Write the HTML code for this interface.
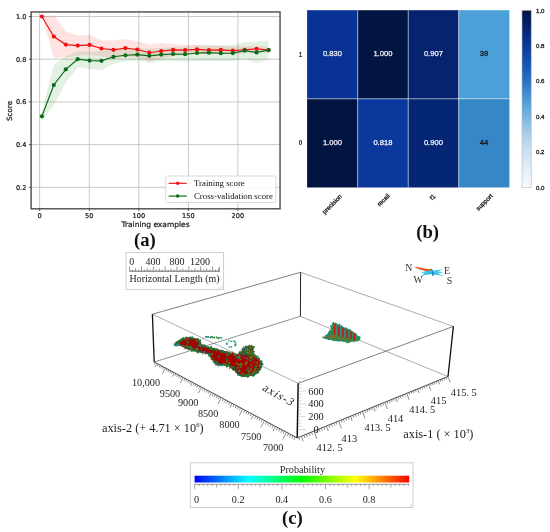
<!DOCTYPE html>
<html><head><meta charset="utf-8"><title>Figure</title>
<style>
html,body{margin:0;padding:0;background:#fff}
body{width:550px;height:532px;overflow:hidden}
svg{display:block}
.dj{font-family:"DejaVu Sans","Liberation Sans",sans-serif;stroke:#1a1a1a;stroke-width:0.22px}
.ar{font-family:"Liberation Sans","DejaVu Sans",sans-serif}
.arb{stroke:#1a1a1a;stroke-width:0.3px}
.arw{stroke:#f4f4f8;stroke-width:0.25px}
.tm{font-family:"Liberation Serif","DejaVu Serif",serif}
.tb{stroke:#222;stroke-width:0.12px}
</style></head><body>
<svg width="550" height="532" viewBox="0 0 550 532">
<rect width="550" height="532" fill="#fff"/>
<g id="panel-a">
<line x1="39.6" y1="11.95" x2="39.6" y2="208.8" stroke="#c4c4c4" stroke-width="0.9"/>
<line x1="89.3" y1="11.95" x2="89.3" y2="208.8" stroke="#c4c4c4" stroke-width="0.9"/>
<line x1="138.8" y1="11.95" x2="138.8" y2="208.8" stroke="#c4c4c4" stroke-width="0.9"/>
<line x1="188.4" y1="11.95" x2="188.4" y2="208.8" stroke="#c4c4c4" stroke-width="0.9"/>
<line x1="237.9" y1="11.95" x2="237.9" y2="208.8" stroke="#c4c4c4" stroke-width="0.9"/>
<line x1="31.1" y1="16.5" x2="280.05" y2="16.5" stroke="#c4c4c4" stroke-width="0.9"/>
<line x1="31.1" y1="59.2" x2="280.05" y2="59.2" stroke="#c4c4c4" stroke-width="0.9"/>
<line x1="31.1" y1="101.9" x2="280.05" y2="101.9" stroke="#c4c4c4" stroke-width="0.9"/>
<line x1="31.1" y1="144.6" x2="280.05" y2="144.6" stroke="#c4c4c4" stroke-width="0.9"/>
<line x1="31.1" y1="187.3" x2="280.05" y2="187.3" stroke="#c4c4c4" stroke-width="0.9"/>
<polygon points="41.9,16.5 53.8,15.0 65.8,31.8 77.7,35.5 89.6,34.7 101.5,40.5 113.5,40.3 125.4,39.1 137.3,41.5 149.3,44.2 161.2,43.0 173.1,43.9 185.1,45.1 197.0,44.9 208.9,46.1 220.8,45.9 232.8,46.6 244.7,46.3 256.6,45.8 268.6,47.1 268.6,53.1 256.6,51.8 244.7,53.3 232.8,54.6 220.8,53.9 208.9,54.1 197.0,53.9 185.1,55.1 173.1,55.9 161.2,59.0 149.3,61.2 137.3,57.5 125.4,57.1 113.5,59.3 101.5,56.5 89.6,55.1 77.7,55.7 65.8,57.4 53.8,58.0 41.9,16.5" fill="#ff0000" fill-opacity="0.11"/>
<polygon points="41.9,111.8 53.8,65.0 65.8,56.3 77.7,50.9 89.6,52.1 101.5,51.3 113.5,49.8 125.4,49.3 137.3,48.6 149.3,48.8 161.2,48.1 173.1,47.0 185.1,46.7 197.0,45.0 208.9,44.7 220.8,45.2 232.8,45.1 244.7,42.3 256.6,41.4 268.6,40.6 268.6,59.6 256.6,63.4 244.7,58.9 232.8,61.1 220.8,61.2 208.9,60.7 197.0,61.0 185.1,61.7 173.1,61.0 161.2,61.1 149.3,62.8 137.3,60.6 125.4,61.3 113.5,63.8 101.5,70.3 89.6,69.1 77.7,67.5 65.8,82.3 53.8,105.0 41.9,120.8" fill="#008000" fill-opacity="0.11"/>
<polyline points="41.9,16.5 53.8,36.5 65.8,44.6 77.7,45.6 89.6,44.9 101.5,48.5 113.5,49.8 125.4,48.1 137.3,49.5 149.3,52.7 161.2,51.0 173.1,49.9 185.1,50.1 197.0,49.4 208.9,50.1 220.8,49.9 232.8,50.6 244.7,49.8 256.6,48.8 268.6,50.1" fill="none" stroke="#f01010" stroke-width="1.15"/><circle cx="41.9" cy="16.5" r="2.1" fill="#f01010"/><circle cx="53.8" cy="36.5" r="2.1" fill="#f01010"/><circle cx="65.8" cy="44.6" r="2.1" fill="#f01010"/><circle cx="77.7" cy="45.6" r="2.1" fill="#f01010"/><circle cx="89.6" cy="44.9" r="2.1" fill="#f01010"/><circle cx="101.5" cy="48.5" r="2.1" fill="#f01010"/><circle cx="113.5" cy="49.8" r="2.1" fill="#f01010"/><circle cx="125.4" cy="48.1" r="2.1" fill="#f01010"/><circle cx="137.3" cy="49.5" r="2.1" fill="#f01010"/><circle cx="149.3" cy="52.7" r="2.1" fill="#f01010"/><circle cx="161.2" cy="51.0" r="2.1" fill="#f01010"/><circle cx="173.1" cy="49.9" r="2.1" fill="#f01010"/><circle cx="185.1" cy="50.1" r="2.1" fill="#f01010"/><circle cx="197.0" cy="49.4" r="2.1" fill="#f01010"/><circle cx="208.9" cy="50.1" r="2.1" fill="#f01010"/><circle cx="220.8" cy="49.9" r="2.1" fill="#f01010"/><circle cx="232.8" cy="50.6" r="2.1" fill="#f01010"/><circle cx="244.7" cy="49.8" r="2.1" fill="#f01010"/><circle cx="256.6" cy="48.8" r="2.1" fill="#f01010"/><circle cx="268.6" cy="50.1" r="2.1" fill="#f01010"/>
<polyline points="41.9,116.3 53.8,85.0 65.8,69.3 77.7,59.2 89.6,60.6 101.5,60.8 113.5,56.8 125.4,55.3 137.3,54.6 149.3,55.8 161.2,54.6 173.1,54.0 185.1,54.2 197.0,53.0 208.9,52.7 220.8,53.2 232.8,53.1 244.7,50.6 256.6,52.4 268.6,50.1" fill="none" stroke="#0b6b16" stroke-width="1.15"/><circle cx="41.9" cy="116.3" r="2.1" fill="#0b6b16"/><circle cx="53.8" cy="85.0" r="2.1" fill="#0b6b16"/><circle cx="65.8" cy="69.3" r="2.1" fill="#0b6b16"/><circle cx="77.7" cy="59.2" r="2.1" fill="#0b6b16"/><circle cx="89.6" cy="60.6" r="2.1" fill="#0b6b16"/><circle cx="101.5" cy="60.8" r="2.1" fill="#0b6b16"/><circle cx="113.5" cy="56.8" r="2.1" fill="#0b6b16"/><circle cx="125.4" cy="55.3" r="2.1" fill="#0b6b16"/><circle cx="137.3" cy="54.6" r="2.1" fill="#0b6b16"/><circle cx="149.3" cy="55.8" r="2.1" fill="#0b6b16"/><circle cx="161.2" cy="54.6" r="2.1" fill="#0b6b16"/><circle cx="173.1" cy="54.0" r="2.1" fill="#0b6b16"/><circle cx="185.1" cy="54.2" r="2.1" fill="#0b6b16"/><circle cx="197.0" cy="53.0" r="2.1" fill="#0b6b16"/><circle cx="208.9" cy="52.7" r="2.1" fill="#0b6b16"/><circle cx="220.8" cy="53.2" r="2.1" fill="#0b6b16"/><circle cx="232.8" cy="53.1" r="2.1" fill="#0b6b16"/><circle cx="244.7" cy="50.6" r="2.1" fill="#0b6b16"/><circle cx="256.6" cy="52.4" r="2.1" fill="#0b6b16"/><circle cx="268.6" cy="50.1" r="2.1" fill="#0b6b16"/>
<rect x="31.1" y="11.95" width="248.95000000000002" height="196.85000000000002" fill="none" stroke="#454545" stroke-width="1.35"/>
<line x1="28.900000000000002" y1="16.5" x2="31.1" y2="16.5" stroke="#333" stroke-width="0.8"/>
<text class="dj" x="26.4" y="18.9" font-size="6.6" text-anchor="end" fill="#1a1a1a">1.0</text>
<line x1="28.900000000000002" y1="59.2" x2="31.1" y2="59.2" stroke="#333" stroke-width="0.8"/>
<text class="dj" x="26.4" y="61.6" font-size="6.6" text-anchor="end" fill="#1a1a1a">0.8</text>
<line x1="28.900000000000002" y1="101.9" x2="31.1" y2="101.9" stroke="#333" stroke-width="0.8"/>
<text class="dj" x="26.4" y="104.30000000000001" font-size="6.6" text-anchor="end" fill="#1a1a1a">0.6</text>
<line x1="28.900000000000002" y1="144.6" x2="31.1" y2="144.6" stroke="#333" stroke-width="0.8"/>
<text class="dj" x="26.4" y="147.0" font-size="6.6" text-anchor="end" fill="#1a1a1a">0.4</text>
<line x1="28.900000000000002" y1="187.3" x2="31.1" y2="187.3" stroke="#333" stroke-width="0.8"/>
<text class="dj" x="26.4" y="189.70000000000002" font-size="6.6" text-anchor="end" fill="#1a1a1a">0.2</text>
<line x1="39.6" y1="208.8" x2="39.6" y2="211.0" stroke="#333" stroke-width="0.8"/>
<text class="dj" x="39.6" y="218.3" font-size="6.6" text-anchor="middle" fill="#1a1a1a">0</text>
<line x1="89.3" y1="208.8" x2="89.3" y2="211.0" stroke="#333" stroke-width="0.8"/>
<text class="dj" x="89.3" y="218.3" font-size="6.6" text-anchor="middle" fill="#1a1a1a">50</text>
<line x1="138.8" y1="208.8" x2="138.8" y2="211.0" stroke="#333" stroke-width="0.8"/>
<text class="dj" x="138.8" y="218.3" font-size="6.6" text-anchor="middle" fill="#1a1a1a">100</text>
<line x1="188.4" y1="208.8" x2="188.4" y2="211.0" stroke="#333" stroke-width="0.8"/>
<text class="dj" x="188.4" y="218.3" font-size="6.6" text-anchor="middle" fill="#1a1a1a">150</text>
<line x1="237.9" y1="208.8" x2="237.9" y2="211.0" stroke="#333" stroke-width="0.8"/>
<text class="dj" x="237.9" y="218.3" font-size="6.6" text-anchor="middle" fill="#1a1a1a">200</text>
<text class="dj" x="155.5" y="227.4" font-size="7.5" text-anchor="middle" fill="#1a1a1a">Training examples</text>
<text class="dj" transform="translate(11.6,111) rotate(-90)" font-size="7.2" text-anchor="middle" fill="#1a1a1a">Score</text>
<rect x="165.7" y="176" width="110.2" height="26.5" rx="1.6" fill="#fff" fill-opacity="0.85" stroke="#cfcfcf" stroke-width="0.8"/>
<line x1="168.6" y1="183.3" x2="186.8" y2="183.3" stroke="#f01010" stroke-width="1.15"/><circle cx="177.7" cy="183.3" r="1.75" fill="#f01010"/>
<line x1="168.6" y1="196.1" x2="186.8" y2="196.1" stroke="#0b6b16" stroke-width="1.15"/><circle cx="177.7" cy="196.1" r="1.75" fill="#0b6b16"/>
<text class="tm" x="194" y="186.2" font-size="8.8" fill="#111">Training score</text>
<text class="tm" x="194" y="199" font-size="8.8" fill="#111">Cross-validation score</text>
<text class="tm" transform="translate(144.8,246.4) scale(0.985,1)" font-size="19" font-weight="bold" text-anchor="middle" fill="#111">(a)</text>
</g>
<g id="panel-b">
<defs><linearGradient id="blues" x1="0" y1="1" x2="0" y2="0">
<stop offset="0" stop-color="rgb(247, 251, 255)"/>
<stop offset="0.1" stop-color="rgb(228, 239, 249)"/>
<stop offset="0.2" stop-color="rgb(205, 224, 241)"/>
<stop offset="0.3" stop-color="rgb(170, 207, 233)"/>
<stop offset="0.4" stop-color="rgb(120, 182, 224)"/>
<stop offset="0.5" stop-color="rgb(75, 152, 212)"/>
<stop offset="0.6" stop-color="rgb(40, 115, 195)"/>
<stop offset="0.7" stop-color="rgb(20, 85, 175)"/>
<stop offset="0.8" stop-color="rgb(10, 58, 150)"/>
<stop offset="0.9" stop-color="rgb(5, 36, 112)"/>
<stop offset="1.0" stop-color="rgb(2, 20, 66)"/>
</linearGradient></defs>
<rect x="307.1" y="10.2" width="50.6" height="88.6" fill="rgb(8, 50, 148)"/>
<rect x="357.7" y="10.2" width="50.5" height="88.6" fill="rgb(2, 20, 66)"/>
<rect x="408.2" y="10.2" width="50.5" height="88.6" fill="rgb(5, 35, 110)"/>
<rect x="458.7" y="10.2" width="50.7" height="88.6" fill="rgb(75, 160, 215)"/>
<rect x="307.1" y="98.8" width="50.6" height="88.7" fill="rgb(2, 20, 66)"/>
<rect x="357.7" y="98.8" width="50.5" height="88.7" fill="rgb(10, 56, 156)"/>
<rect x="408.2" y="98.8" width="50.5" height="88.7" fill="rgb(5, 38, 116)"/>
<rect x="458.7" y="98.8" width="50.7" height="88.7" fill="rgb(55, 135, 200)"/>
<line x1="357.7" y1="10.2" x2="357.7" y2="187.5" stroke="#ffffff" stroke-opacity="0.5" stroke-width="1"/>
<line x1="408.2" y1="10.2" x2="408.2" y2="187.5" stroke="#ffffff" stroke-opacity="0.5" stroke-width="1"/>
<line x1="458.7" y1="10.2" x2="458.7" y2="187.5" stroke="#ffffff" stroke-opacity="0.5" stroke-width="1"/>
<line x1="307.1" y1="98.8" x2="509.4" y2="98.8" stroke="#ffffff" stroke-opacity="0.5" stroke-width="1"/>
<text class="ar arw" x="332.4" y="56.3" font-size="7.6" text-anchor="middle" fill="#f4f4f8">0.830</text>
<text class="ar arw" x="382.9" y="56.3" font-size="7.6" text-anchor="middle" fill="#f4f4f8">1.000</text>
<text class="ar arw" x="433.4" y="56.3" font-size="7.6" text-anchor="middle" fill="#f4f4f8">0.907</text>
<text class="ar arb" x="484.0" y="56.3" font-size="7.6" text-anchor="middle" fill="#10203a">39</text>
<text class="ar arw" x="332.4" y="145.0" font-size="7.6" text-anchor="middle" fill="#f4f4f8">1.000</text>
<text class="ar arw" x="382.9" y="145.0" font-size="7.6" text-anchor="middle" fill="#f4f4f8">0.818</text>
<text class="ar arw" x="433.4" y="145.0" font-size="7.6" text-anchor="middle" fill="#f4f4f8">0.900</text>
<text class="ar arb" x="484.0" y="145.0" font-size="7.6" text-anchor="middle" fill="#10203a">44</text>
<text class="ar" x="300.6" y="56.6" font-size="6.3" font-weight="bold" text-anchor="middle" fill="#222">1</text>
<text class="ar" x="300.6" y="145.3" font-size="6.3" font-weight="bold" text-anchor="middle" fill="#222">0</text>
<text class="ar arb" transform="translate(332,204.2) rotate(-45)" font-size="6.2" text-anchor="middle" dy="2.1" fill="#222">precision</text>
<text class="ar arb" transform="translate(383.4,200.1) rotate(-45)" font-size="6.2" text-anchor="middle" dy="2.1" fill="#222">recall</text>
<text class="ar arb" transform="translate(432.6,197.1) rotate(-45)" font-size="6.2" text-anchor="middle" dy="2.1" fill="#222">f1</text>
<text class="ar arb" transform="translate(484.3,202.2) rotate(-45)" font-size="6.2" text-anchor="middle" dy="2.1" fill="#222">support</text>
<rect x="522" y="10.3" width="9.2" height="177.2" fill="url(#blues)" stroke="#b8b8b8" stroke-width="0.6"/>
<text class="ar arb" x="536" y="12.5" font-size="6.1" fill="#222">1.0</text>
<text class="ar arb" x="536" y="47.900000000000006" font-size="6.1" fill="#222">0.8</text>
<text class="ar arb" x="536" y="83.4" font-size="6.1" fill="#222">0.6</text>
<text class="ar arb" x="536" y="118.8" font-size="6.1" fill="#222">0.4</text>
<text class="ar arb" x="536" y="154.29999999999998" font-size="6.1" fill="#222">0.2</text>
<text class="ar arb" x="536" y="189.7" font-size="6.1" fill="#222">0.0</text>
<text class="tm" transform="translate(427.6,237.8) scale(0.985,1)" font-size="19" font-weight="bold" text-anchor="middle" fill="#111">(b)</text>
</g>
<g id="panel-c">
<rect x="126" y="252.6" width="97.6" height="36.8" fill="#fff" stroke="#c8c8c8" stroke-width="0.9"/>
<path d="M219.5 288.6 L222.8 285.3 M221 288.6 L222.8 286.8" stroke="#bbb" stroke-width="0.5" fill="none"/>
<line x1="129.4" y1="271.2" x2="219.6" y2="271.2" stroke="#555" stroke-width="0.9"/>
<line x1="129.60" y1="271.2" x2="129.60" y2="266.4" stroke="#555" stroke-width="0.6"/>
<line x1="132.56" y1="271.2" x2="132.56" y2="269.59999999999997" stroke="#555" stroke-width="0.6"/>
<line x1="135.53" y1="271.2" x2="135.53" y2="268.4" stroke="#555" stroke-width="0.6"/>
<line x1="138.49" y1="271.2" x2="138.49" y2="269.59999999999997" stroke="#555" stroke-width="0.6"/>
<line x1="141.45" y1="271.2" x2="141.45" y2="266.4" stroke="#555" stroke-width="0.6"/>
<line x1="144.41" y1="271.2" x2="144.41" y2="269.59999999999997" stroke="#555" stroke-width="0.6"/>
<line x1="147.38" y1="271.2" x2="147.38" y2="268.4" stroke="#555" stroke-width="0.6"/>
<line x1="150.34" y1="271.2" x2="150.34" y2="269.59999999999997" stroke="#555" stroke-width="0.6"/>
<line x1="153.30" y1="271.2" x2="153.30" y2="266.4" stroke="#555" stroke-width="0.6"/>
<line x1="156.26" y1="271.2" x2="156.26" y2="269.59999999999997" stroke="#555" stroke-width="0.6"/>
<line x1="159.22" y1="271.2" x2="159.22" y2="268.4" stroke="#555" stroke-width="0.6"/>
<line x1="162.19" y1="271.2" x2="162.19" y2="269.59999999999997" stroke="#555" stroke-width="0.6"/>
<line x1="165.15" y1="271.2" x2="165.15" y2="266.4" stroke="#555" stroke-width="0.6"/>
<line x1="168.11" y1="271.2" x2="168.11" y2="269.59999999999997" stroke="#555" stroke-width="0.6"/>
<line x1="171.07" y1="271.2" x2="171.07" y2="268.4" stroke="#555" stroke-width="0.6"/>
<line x1="174.04" y1="271.2" x2="174.04" y2="269.59999999999997" stroke="#555" stroke-width="0.6"/>
<line x1="177.00" y1="271.2" x2="177.00" y2="266.4" stroke="#555" stroke-width="0.6"/>
<line x1="179.96" y1="271.2" x2="179.96" y2="269.59999999999997" stroke="#555" stroke-width="0.6"/>
<line x1="182.92" y1="271.2" x2="182.92" y2="268.4" stroke="#555" stroke-width="0.6"/>
<line x1="185.89" y1="271.2" x2="185.89" y2="269.59999999999997" stroke="#555" stroke-width="0.6"/>
<line x1="188.85" y1="271.2" x2="188.85" y2="266.4" stroke="#555" stroke-width="0.6"/>
<line x1="191.81" y1="271.2" x2="191.81" y2="269.59999999999997" stroke="#555" stroke-width="0.6"/>
<line x1="194.77" y1="271.2" x2="194.77" y2="268.4" stroke="#555" stroke-width="0.6"/>
<line x1="197.74" y1="271.2" x2="197.74" y2="269.59999999999997" stroke="#555" stroke-width="0.6"/>
<line x1="200.70" y1="271.2" x2="200.70" y2="266.4" stroke="#555" stroke-width="0.6"/>
<line x1="203.66" y1="271.2" x2="203.66" y2="269.59999999999997" stroke="#555" stroke-width="0.6"/>
<line x1="206.62" y1="271.2" x2="206.62" y2="268.4" stroke="#555" stroke-width="0.6"/>
<line x1="209.59" y1="271.2" x2="209.59" y2="269.59999999999997" stroke="#555" stroke-width="0.6"/>
<line x1="212.55" y1="271.2" x2="212.55" y2="266.4" stroke="#555" stroke-width="0.6"/>
<line x1="215.51" y1="271.2" x2="215.51" y2="269.59999999999997" stroke="#555" stroke-width="0.6"/>
<line x1="218.47" y1="271.2" x2="218.47" y2="268.4" stroke="#555" stroke-width="0.6"/>
<line x1="219.4" y1="271.2" x2="219.4" y2="266.4" stroke="#555" stroke-width="0.55"/>
<text class="tm" x="131.8" y="265.2" font-size="10" text-anchor="middle" fill="#222">0</text>
<text class="tm" x="153" y="265.2" font-size="10" text-anchor="middle" fill="#222">400</text>
<text class="tm" x="177" y="265.2" font-size="10" text-anchor="middle" fill="#222">800</text>
<text class="tm" x="200" y="265.2" font-size="10" text-anchor="middle" fill="#222">1200</text>
<text class="tm" x="174.5" y="282.2" font-size="9.95" text-anchor="middle" fill="#222">Horizontal Length (m)</text>
<polygon points="420.5,272.5 426.0,270.9 431.1,270.0 431.5,272.2 425.3,272.9" fill="#3cc6ec" fill-opacity="1"/>
<polygon points="420.9,275.7 424.5,273.2 431.1,270.9 432.7,274.0 426.7,274.7" fill="#2cbfe8" fill-opacity="1"/>
<polygon points="442.5,269.4 437.6,270.0 431.8,270.8 432.5,273.5 438.5,271.6" fill="#34c2ea" fill-opacity="1"/>
<polygon points="443.6,272.4 438.0,271.5 432.5,271.5 433.0,274.0 438.5,273.5" fill="#4acaee" fill-opacity="1"/>
<polygon points="444.3,275.7 439.1,274.1 433.4,271.9 431.8,274.3 437.6,275.1" fill="#2cbae4" fill-opacity="1"/>
<polygon points="413.3,266.7 418.7,267.2 424.5,268.5 430.9,269.2 429.8,271.0 425.3,270.9 419.5,269.2" fill="#f2501a" fill-opacity="1"/>
<polygon points="430.9,269.0 432.5,269.5 434.1,275.3 432.3,275.9" fill="#2a86b8" fill-opacity="1"/>
<polygon points="430.2,268.9 431.5,268.7 431.8,269.9 430.5,270.0" fill="#555555" fill-opacity="1"/>
<text class="tm" x="408.7" y="270.9" font-size="9.8" text-anchor="middle" fill="#333">N</text>
<text class="tm" x="418" y="282.7" font-size="9.8" text-anchor="middle" fill="#333">W</text>
<text class="tm" x="446.9" y="274.1" font-size="9.8" text-anchor="middle" fill="#333">E</text>
<text class="tm" x="449.4" y="283.6" font-size="9.8" text-anchor="middle" fill="#333">S</text>
<line x1="154.2" y1="362.0" x2="300.4" y2="316.3" stroke="#444" stroke-width="0.6"/>
<line x1="300.4" y1="316.3" x2="448.0" y2="376.5" stroke="#666" stroke-width="0.55"/>
<line x1="300.6" y1="272.3" x2="300.4" y2="316.3" stroke="#222" stroke-width="1.0"/>
<polygon points="174.5,344.6 177.6,341.5 182,339.3 186.4,337.5 191.8,337.6 197.3,338.7 200.2,340.4 200.4,343.4 203.5,345.6 208.2,346.9 213.6,348.0 219,349.6 224.5,350.9 230.5,352.6 237.6,353.9 241.3,351.5 243.2,348.4 245.7,346.5 249.5,345.2 254,346.5 252.9,350.3 253.4,354.1 257.2,356.6 259.7,359.2 262.3,363.6 261,368.7 258.5,372.5 254.6,375.1 248.3,376.4 241.9,376.4 237.5,374.5 234.9,371.3 231.7,368.7 228.5,366.3 222.8,365.6 217.7,365.5 214.5,363.6 212.6,360.5 210.7,357.9 209.5,355.4 206.4,353.6 200.9,352.7 193.6,351.0 188.2,349.4 184.2,347.4 180.9,345.9 178,345.6" fill="#a40303"/>
<circle cx="183.3" cy="337.8" r="0.84" fill="#1c7a40"/><circle cx="185.6" cy="337.6" r="0.90" fill="#3e7228"/><circle cx="186.7" cy="337.1" r="0.72" fill="#1c7a40"/><circle cx="187.6" cy="337.4" r="0.68" fill="#3e7228"/><circle cx="189.5" cy="337.8" r="1.06" fill="#146e5a"/><circle cx="190.3" cy="337.4" r="0.95" fill="#22702e"/><circle cx="192.2" cy="337.3" r="0.93" fill="#286e28"/><circle cx="181.5" cy="339.2" r="0.74" fill="#22702e"/><circle cx="182.4" cy="339.2" r="1.15" fill="#146e5a"/><circle cx="183.7" cy="338.6" r="0.81" fill="#2e7a24"/><circle cx="185.2" cy="338.6" r="0.90" fill="#286e28"/><circle cx="187.6" cy="339.1" r="0.92" fill="#6a7418"/><circle cx="190.9" cy="338.5" r="0.97" fill="#286e28"/><circle cx="191.7" cy="338.5" r="0.89" fill="#22702e"/><circle cx="192.8" cy="338.3" r="0.82" fill="#1c7a40"/><circle cx="195.0" cy="338.7" r="1.02" fill="#2e7a24"/><circle cx="197.8" cy="338.5" r="0.82" fill="#2e7a24"/><circle cx="180.2" cy="340.4" r="1.06" fill="#3e7228"/><circle cx="180.9" cy="339.6" r="0.86" fill="#3e7228"/><circle cx="182.2" cy="340.2" r="0.97" fill="#22702e"/><circle cx="185.3" cy="339.6" r="1.04" fill="#3e7228"/><circle cx="197.7" cy="339.6" r="1.13" fill="#2e7a24"/><circle cx="198.3" cy="340.4" r="0.93" fill="#3e7228"/><circle cx="200.0" cy="340.4" r="1.04" fill="#146e5a"/><circle cx="177.4" cy="341.9" r="1.10" fill="#286e28"/><circle cx="178.9" cy="341.1" r="1.14" fill="#286e28"/><circle cx="179.4" cy="341.7" r="0.83" fill="#146e5a"/><circle cx="181.4" cy="340.9" r="1.03" fill="#22702e"/><circle cx="196.4" cy="341.1" r="0.96" fill="#5a7a20"/><circle cx="199.0" cy="341.0" r="0.88" fill="#1c7a40"/><circle cx="199.7" cy="341.7" r="1.01" fill="#146e5a"/><circle cx="175.6" cy="342.4" r="0.63" fill="#286e28"/><circle cx="176.6" cy="342.7" r="0.85" fill="#1c7a40"/><circle cx="178.4" cy="343.1" r="1.14" fill="#3e7228"/><circle cx="187.8" cy="342.3" r="1.18" fill="#1c7a40"/><circle cx="199.7" cy="342.3" r="1.02" fill="#1c7a40"/><circle cx="200.9" cy="342.3" r="0.62" fill="#146e5a"/><circle cx="174.0" cy="344.1" r="0.73" fill="#1c7a40"/><circle cx="175.6" cy="344.4" r="1.02" fill="#22702e"/><circle cx="176.6" cy="344.3" r="1.06" fill="#22702e"/><circle cx="178.8" cy="344.3" r="1.15" fill="#1878a8"/><circle cx="180.0" cy="344.4" r="0.90" fill="#146e5a"/><circle cx="199.6" cy="343.9" r="1.06" fill="#286e28"/><circle cx="200.9" cy="344.4" r="1.12" fill="#286e28"/><circle cx="174.8" cy="345.1" r="0.68" fill="#286e28"/><circle cx="177.2" cy="345.9" r="0.79" fill="#16808a"/><circle cx="181.0" cy="345.5" r="0.81" fill="#22702e"/><circle cx="182.1" cy="345.9" r="0.81" fill="#22702e"/><circle cx="183.4" cy="345.6" r="0.82" fill="#1878a8"/><circle cx="186.8" cy="345.8" r="1.22" fill="#3e7228"/><circle cx="199.0" cy="345.6" r="1.03" fill="#146e5a"/><circle cx="199.6" cy="345.4" r="1.19" fill="#3e7228"/><circle cx="200.9" cy="345.8" r="0.93" fill="#1a9a9a"/><circle cx="203.0" cy="345.0" r="0.77" fill="#22702e"/><circle cx="204.3" cy="345.1" r="0.94" fill="#2e7a24"/><circle cx="205.4" cy="345.5" r="0.68" fill="#16808a"/><circle cx="249.6" cy="345.2" r="0.60" fill="#22702e"/><circle cx="251.7" cy="345.4" r="0.70" fill="#3e7228"/><circle cx="182.3" cy="346.3" r="0.81" fill="#22702e"/><circle cx="183.8" cy="346.5" r="0.92" fill="#286e28"/><circle cx="185.5" cy="346.8" r="1.02" fill="#22702e"/><circle cx="189.1" cy="347.1" r="1.09" fill="#2e7a24"/><circle cx="190.3" cy="346.7" r="1.08" fill="#5a7a20"/><circle cx="203.0" cy="346.9" r="0.89" fill="#1c7a40"/><circle cx="203.9" cy="346.6" r="1.08" fill="#22702e"/><circle cx="205.7" cy="346.7" r="0.95" fill="#146e5a"/><circle cx="206.9" cy="347.0" r="0.82" fill="#146e5a"/><circle cx="208.4" cy="347.2" r="1.02" fill="#2e7a24"/><circle cx="211.0" cy="346.6" r="0.90" fill="#1c7a40"/><circle cx="243.7" cy="347.1" r="0.77" fill="#146e5a"/><circle cx="246.0" cy="346.6" r="1.07" fill="#146e5a"/><circle cx="247.3" cy="347.2" r="0.99" fill="#2e7a24"/><circle cx="248.9" cy="346.6" r="1.14" fill="#286e28"/><circle cx="250.3" cy="346.6" r="0.92" fill="#22702e"/><circle cx="251.1" cy="346.6" r="0.94" fill="#22702e"/><circle cx="252.7" cy="346.7" r="0.80" fill="#22702e"/><circle cx="253.7" cy="347.2" r="1.12" fill="#286e28"/><circle cx="185.2" cy="348.6" r="0.84" fill="#22702e"/><circle cx="187.5" cy="348.4" r="0.87" fill="#146e5a"/><circle cx="188.9" cy="347.7" r="1.24" fill="#22702e"/><circle cx="190.9" cy="347.9" r="1.12" fill="#2e7a24"/><circle cx="191.6" cy="348.4" r="1.13" fill="#1a9a9a"/><circle cx="196.4" cy="348.4" r="0.98" fill="#1878a8"/><circle cx="208.4" cy="348.2" r="1.09" fill="#22702e"/><circle cx="209.6" cy="348.0" r="0.94" fill="#146e5a"/><circle cx="210.7" cy="348.4" r="0.80" fill="#3e7228"/><circle cx="211.9" cy="348.1" r="0.90" fill="#22702e"/><circle cx="214.5" cy="348.6" r="0.92" fill="#146e5a"/><circle cx="243.0" cy="348.2" r="0.67" fill="#22702e"/><circle cx="244.9" cy="348.2" r="0.95" fill="#2e7a24"/><circle cx="246.3" cy="348.4" r="1.18" fill="#2e7a24"/><circle cx="247.1" cy="348.6" r="1.05" fill="#1878a8"/><circle cx="250.4" cy="347.7" r="1.12" fill="#7a6a14"/><circle cx="250.9" cy="348.0" r="0.88" fill="#5a7a20"/><circle cx="253.0" cy="348.0" r="0.81" fill="#1c7a40"/><circle cx="188.2" cy="349.6" r="0.71" fill="#2e7a24"/><circle cx="188.9" cy="349.1" r="0.82" fill="#3e7228"/><circle cx="190.8" cy="349.6" r="0.95" fill="#2e7a24"/><circle cx="191.6" cy="349.0" r="0.89" fill="#1c7a40"/><circle cx="192.9" cy="349.5" r="0.82" fill="#286e28"/><circle cx="195.0" cy="349.7" r="0.85" fill="#2e7a24"/><circle cx="197.1" cy="349.2" r="1.20" fill="#5a7a20"/><circle cx="201.2" cy="349.1" r="0.93" fill="#286e28"/><circle cx="210.5" cy="349.3" r="0.98" fill="#286e28"/><circle cx="212.4" cy="349.1" r="1.10" fill="#3e7228"/><circle cx="214.8" cy="349.9" r="0.81" fill="#2e7a24"/><circle cx="216.4" cy="349.6" r="1.14" fill="#146e5a"/><circle cx="217.1" cy="349.4" r="1.07" fill="#2e7a24"/><circle cx="241.9" cy="349.2" r="0.80" fill="#3e7228"/><circle cx="243.4" cy="349.2" r="1.04" fill="#146e5a"/><circle cx="244.6" cy="349.6" r="1.15" fill="#22702e"/><circle cx="245.7" cy="349.2" r="1.16" fill="#286e28"/><circle cx="247.7" cy="349.8" r="1.23" fill="#1a9a9a"/><circle cx="249.0" cy="349.2" r="0.85" fill="#2e7a24"/><circle cx="249.6" cy="349.3" r="0.86" fill="#1c7a40"/><circle cx="252.8" cy="349.8" r="1.10" fill="#22702e"/><circle cx="191.8" cy="351.3" r="0.71" fill="#1c7a40"/><circle cx="193.1" cy="350.6" r="1.07" fill="#22702e"/><circle cx="194.3" cy="350.4" r="0.98" fill="#22702e"/><circle cx="196.3" cy="350.7" r="1.06" fill="#3e7228"/><circle cx="197.0" cy="350.7" r="1.01" fill="#286e28"/><circle cx="198.4" cy="351.2" r="0.89" fill="#146e5a"/><circle cx="200.1" cy="351.0" r="0.80" fill="#22702e"/><circle cx="217.1" cy="350.4" r="1.07" fill="#286e28"/><circle cx="220.3" cy="351.0" r="1.04" fill="#286e28"/><circle cx="221.6" cy="350.4" r="0.93" fill="#146e5a"/><circle cx="222.9" cy="350.9" r="0.97" fill="#146e5a"/><circle cx="241.0" cy="351.0" r="0.60" fill="#146e5a"/><circle cx="243.6" cy="350.7" r="0.89" fill="#1878a8"/><circle cx="244.5" cy="350.9" r="1.03" fill="#286e28"/><circle cx="245.5" cy="350.5" r="0.81" fill="#7a6a14"/><circle cx="246.8" cy="351.3" r="1.16" fill="#146e5a"/><circle cx="248.2" cy="350.4" r="0.96" fill="#6a7418"/><circle cx="249.6" cy="350.6" r="0.83" fill="#286e28"/><circle cx="251.0" cy="351.0" r="1.06" fill="#5a7a20"/><circle cx="197.2" cy="352.7" r="0.78" fill="#146e5a"/><circle cx="198.4" cy="352.2" r="0.95" fill="#3e7228"/><circle cx="201.4" cy="352.1" r="1.04" fill="#22702e"/><circle cx="202.3" cy="352.6" r="1.03" fill="#22702e"/><circle cx="204.1" cy="352.0" r="1.07" fill="#1c7a40"/><circle cx="205.1" cy="351.9" r="1.08" fill="#2060b0"/><circle cx="221.5" cy="352.5" r="0.94" fill="#286e28"/><circle cx="223.1" cy="351.9" r="0.98" fill="#3e7228"/><circle cx="224.7" cy="352.4" r="1.09" fill="#22702e"/><circle cx="225.9" cy="352.0" r="1.04" fill="#286e28"/><circle cx="227.5" cy="352.4" r="1.06" fill="#2e7a24"/><circle cx="227.9" cy="352.4" r="0.90" fill="#1c7a40"/><circle cx="229.3" cy="352.6" r="0.98" fill="#3e7228"/><circle cx="232.4" cy="352.4" r="0.78" fill="#3e7228"/><circle cx="239.6" cy="352.3" r="0.94" fill="#1c7a40"/><circle cx="240.2" cy="352.0" r="0.71" fill="#3e7228"/><circle cx="241.5" cy="352.4" r="0.80" fill="#1c7a40"/><circle cx="243.4" cy="351.8" r="1.20" fill="#1c7a40"/><circle cx="244.2" cy="352.3" r="0.99" fill="#286e28"/><circle cx="246.3" cy="352.4" r="1.17" fill="#146e5a"/><circle cx="246.9" cy="352.0" r="1.20" fill="#7a6a14"/><circle cx="248.4" cy="351.8" r="0.95" fill="#1c7a40"/><circle cx="249.9" cy="352.1" r="1.01" fill="#7a6a14"/><circle cx="251.8" cy="352.2" r="1.00" fill="#3e7228"/><circle cx="252.3" cy="352.2" r="0.91" fill="#286e28"/><circle cx="253.9" cy="351.8" r="0.93" fill="#286e28"/><circle cx="203.0" cy="354.0" r="0.60" fill="#2e7a24"/><circle cx="205.4" cy="353.6" r="0.94" fill="#146e5a"/><circle cx="208.6" cy="353.7" r="1.01" fill="#2060b0"/><circle cx="212.0" cy="353.9" r="1.11" fill="#5a7a20"/><circle cx="229.7" cy="353.7" r="1.00" fill="#1c7a40"/><circle cx="231.3" cy="353.2" r="0.82" fill="#1a9a9a"/><circle cx="233.7" cy="353.2" r="0.82" fill="#22702e"/><circle cx="239.5" cy="353.2" r="1.05" fill="#2e7a24"/><circle cx="240.0" cy="353.7" r="0.84" fill="#286e28"/><circle cx="242.3" cy="353.7" r="0.81" fill="#5a7a20"/><circle cx="243.7" cy="353.5" r="1.16" fill="#22702e"/><circle cx="244.2" cy="353.6" r="1.18" fill="#146e5a"/><circle cx="247.5" cy="353.3" r="1.02" fill="#1a9a9a"/><circle cx="248.6" cy="353.1" r="1.18" fill="#5a7a20"/><circle cx="250.4" cy="353.7" r="0.96" fill="#7a6a14"/><circle cx="251.3" cy="353.4" r="0.88" fill="#1c7a40"/><circle cx="252.5" cy="353.5" r="0.91" fill="#2e7a24"/><circle cx="253.8" cy="353.5" r="0.76" fill="#1c7a40"/><circle cx="209.2" cy="354.7" r="0.88" fill="#2e7a24"/><circle cx="210.3" cy="354.4" r="1.10" fill="#2e7a24"/><circle cx="227.1" cy="355.4" r="1.18" fill="#3e7228"/><circle cx="228.0" cy="354.4" r="0.96" fill="#22702e"/><circle cx="234.1" cy="354.9" r="1.15" fill="#3e7228"/><circle cx="235.6" cy="354.9" r="0.85" fill="#2e7a24"/><circle cx="236.0" cy="354.9" r="0.85" fill="#2e7a24"/><circle cx="239.6" cy="355.0" r="1.05" fill="#1c7a40"/><circle cx="243.6" cy="354.6" r="1.00" fill="#1c7a40"/><circle cx="246.3" cy="354.8" r="0.85" fill="#22702e"/><circle cx="248.5" cy="355.3" r="1.21" fill="#146e5a"/><circle cx="252.4" cy="354.8" r="0.90" fill="#2e7a24"/><circle cx="255.0" cy="355.3" r="1.09" fill="#1c7a40"/><circle cx="209.2" cy="355.9" r="0.94" fill="#22702e"/><circle cx="210.5" cy="355.8" r="0.80" fill="#2e7a24"/><circle cx="218.5" cy="356.7" r="1.11" fill="#2e7a24"/><circle cx="251.1" cy="356.2" r="1.16" fill="#3e7228"/><circle cx="253.9" cy="356.3" r="1.16" fill="#8a5a10"/><circle cx="255.1" cy="356.3" r="0.86" fill="#286e28"/><circle cx="256.9" cy="356.0" r="0.69" fill="#1c7a40"/><circle cx="258.0" cy="356.3" r="0.67" fill="#22702e"/><circle cx="211.3" cy="357.9" r="0.87" fill="#2e7a24"/><circle cx="236.7" cy="357.3" r="0.93" fill="#3e7228"/><circle cx="237.5" cy="357.9" r="1.03" fill="#1c7a40"/><circle cx="239.1" cy="357.3" r="1.10" fill="#1a9a9a"/><circle cx="247.1" cy="357.9" r="0.98" fill="#1c7a40"/><circle cx="249.7" cy="357.6" r="0.88" fill="#3e7228"/><circle cx="251.1" cy="357.5" r="1.25" fill="#6a7418"/><circle cx="255.8" cy="357.2" r="1.00" fill="#286e28"/><circle cx="257.0" cy="357.3" r="1.00" fill="#1c7a40"/><circle cx="257.8" cy="357.7" r="1.13" fill="#1a9a9a"/><circle cx="211.7" cy="359.0" r="1.05" fill="#286e28"/><circle cx="213.1" cy="358.7" r="0.88" fill="#22702e"/><circle cx="226.6" cy="359.1" r="1.18" fill="#22702e"/><circle cx="240.3" cy="359.3" r="1.05" fill="#5a7a20"/><circle cx="252.6" cy="358.7" r="0.96" fill="#22702e"/><circle cx="257.7" cy="359.1" r="0.94" fill="#1c7a40"/><circle cx="259.2" cy="358.6" r="0.91" fill="#2e7a24"/><circle cx="213.6" cy="360.6" r="0.93" fill="#3e7228"/><circle cx="250.3" cy="360.5" r="1.10" fill="#146e5a"/><circle cx="259.4" cy="360.7" r="0.93" fill="#3e7228"/><circle cx="213.2" cy="361.8" r="0.70" fill="#1c7a40"/><circle cx="214.5" cy="361.9" r="1.08" fill="#1c7a40"/><circle cx="216.4" cy="361.9" r="1.14" fill="#2e7a24"/><circle cx="227.0" cy="361.3" r="1.02" fill="#5a7a20"/><circle cx="260.5" cy="361.9" r="1.08" fill="#1c7a40"/><circle cx="261.6" cy="361.2" r="0.87" fill="#1c7a40"/><circle cx="215.3" cy="363.1" r="1.12" fill="#22702e"/><circle cx="216.5" cy="363.2" r="1.08" fill="#146e5a"/><circle cx="229.4" cy="362.8" r="1.17" fill="#7a6a14"/><circle cx="236.6" cy="363.5" r="1.14" fill="#8a5a10"/><circle cx="246.1" cy="362.6" r="0.94" fill="#5a7a20"/><circle cx="246.8" cy="362.6" r="1.05" fill="#6a7418"/><circle cx="257.0" cy="362.6" r="0.92" fill="#8a5a10"/><circle cx="260.9" cy="362.7" r="0.93" fill="#22702e"/><circle cx="262.3" cy="363.1" r="0.70" fill="#22702e"/><circle cx="216.3" cy="363.9" r="0.84" fill="#22702e"/><circle cx="218.0" cy="364.3" r="1.03" fill="#1878a8"/><circle cx="220.5" cy="364.5" r="1.08" fill="#146e5a"/><circle cx="222.0" cy="364.6" r="0.86" fill="#3e7228"/><circle cx="223.9" cy="364.1" r="1.18" fill="#1c7a40"/><circle cx="225.5" cy="364.2" r="1.11" fill="#7a6a14"/><circle cx="226.5" cy="364.8" r="1.10" fill="#286e28"/><circle cx="228.6" cy="364.5" r="1.18" fill="#1c7a40"/><circle cx="238.8" cy="364.8" r="1.06" fill="#6a7418"/><circle cx="240.9" cy="363.9" r="1.16" fill="#5a7a20"/><circle cx="241.6" cy="364.4" r="1.24" fill="#8a5a10"/><circle cx="245.5" cy="364.6" r="1.04" fill="#7a6a14"/><circle cx="251.7" cy="364.8" r="1.06" fill="#8a5a10"/><circle cx="260.4" cy="364.8" r="0.83" fill="#146e5a"/><circle cx="262.6" cy="364.4" r="0.92" fill="#1c7a40"/><circle cx="216.0" cy="365.3" r="0.69" fill="#1c7a40"/><circle cx="218.5" cy="366.1" r="0.77" fill="#286e28"/><circle cx="221.2" cy="365.4" r="0.81" fill="#3e7228"/><circle cx="222.8" cy="365.3" r="0.87" fill="#1a9a9a"/><circle cx="225.4" cy="365.3" r="0.80" fill="#1c7a40"/><circle cx="227.4" cy="365.4" r="0.98" fill="#2e7a24"/><circle cx="228.4" cy="365.5" r="0.88" fill="#22702e"/><circle cx="229.5" cy="365.8" r="0.87" fill="#1c7a40"/><circle cx="240.5" cy="365.4" r="1.19" fill="#286e28"/><circle cx="250.9" cy="366.1" r="0.86" fill="#286e28"/><circle cx="256.3" cy="366.2" r="1.04" fill="#6a7418"/><circle cx="259.5" cy="365.6" r="1.12" fill="#5a7a20"/><circle cx="260.6" cy="366.1" r="0.89" fill="#22702e"/><circle cx="226.7" cy="366.7" r="0.92" fill="#22702e"/><circle cx="229.7" cy="366.6" r="1.08" fill="#2e7a24"/><circle cx="231.5" cy="366.9" r="0.91" fill="#146e5a"/><circle cx="232.2" cy="367.4" r="1.01" fill="#22702e"/><circle cx="234.2" cy="367.4" r="1.20" fill="#22702e"/><circle cx="237.4" cy="367.5" r="0.81" fill="#146e5a"/><circle cx="238.8" cy="367.5" r="0.85" fill="#8a5a10"/><circle cx="240.8" cy="367.2" r="0.87" fill="#5a7a20"/><circle cx="255.0" cy="366.8" r="0.99" fill="#22702e"/><circle cx="261.0" cy="367.3" r="1.09" fill="#286e28"/><circle cx="229.6" cy="368.2" r="0.72" fill="#22702e"/><circle cx="232.4" cy="368.2" r="0.81" fill="#2e7a24"/><circle cx="237.7" cy="368.0" r="0.87" fill="#1c7a40"/><circle cx="248.1" cy="368.0" r="0.85" fill="#1a9a9a"/><circle cx="255.8" cy="368.6" r="1.16" fill="#6a7418"/><circle cx="259.4" cy="368.8" r="1.01" fill="#22702e"/><circle cx="232.7" cy="369.3" r="0.88" fill="#22702e"/><circle cx="233.9" cy="370.1" r="0.86" fill="#286e28"/><circle cx="234.7" cy="370.1" r="0.89" fill="#286e28"/><circle cx="236.1" cy="370.2" r="0.91" fill="#1c7a40"/><circle cx="246.4" cy="370.2" r="0.94" fill="#286e28"/><circle cx="251.1" cy="369.6" r="1.24" fill="#7a6a14"/><circle cx="254.9" cy="369.5" r="1.05" fill="#8a5a10"/><circle cx="258.5" cy="369.9" r="0.86" fill="#3e7228"/><circle cx="259.1" cy="369.4" r="1.14" fill="#3e7228"/><circle cx="260.3" cy="369.3" r="1.03" fill="#286e28"/><circle cx="239.4" cy="370.9" r="1.03" fill="#1a9a9a"/><circle cx="248.8" cy="371.0" r="1.25" fill="#6a7418"/><circle cx="255.0" cy="371.1" r="0.88" fill="#3e7228"/><circle cx="258.3" cy="370.7" r="1.00" fill="#1c7a40"/><circle cx="236.1" cy="372.1" r="0.92" fill="#1c7a40"/><circle cx="248.7" cy="372.2" r="0.91" fill="#1c7a40"/><circle cx="252.8" cy="372.5" r="1.25" fill="#8a5a10"/><circle cx="254.4" cy="372.0" r="0.91" fill="#5a7a20"/><circle cx="256.6" cy="372.0" r="0.96" fill="#2e7a24"/><circle cx="258.3" cy="372.4" r="0.88" fill="#146e5a"/><circle cx="238.3" cy="374.0" r="1.12" fill="#1c7a40"/><circle cx="241.8" cy="373.5" r="1.07" fill="#8a5a10"/><circle cx="244.1" cy="374.0" r="0.93" fill="#3e7228"/><circle cx="250.2" cy="373.5" r="1.02" fill="#286e28"/><circle cx="251.4" cy="374.2" r="1.08" fill="#146e5a"/><circle cx="253.8" cy="374.0" r="0.91" fill="#3e7228"/><circle cx="254.9" cy="373.4" r="0.98" fill="#146e5a"/><circle cx="256.7" cy="373.3" r="0.92" fill="#3e7228"/><circle cx="237.7" cy="375.0" r="0.78" fill="#16808a"/><circle cx="239.1" cy="375.1" r="0.90" fill="#146e5a"/><circle cx="240.8" cy="375.6" r="1.00" fill="#22702e"/><circle cx="241.8" cy="375.2" r="0.83" fill="#22702e"/><circle cx="244.1" cy="375.3" r="1.09" fill="#146e5a"/><circle cx="246.3" cy="375.1" r="1.02" fill="#1c7a40"/><circle cx="247.4" cy="375.3" r="0.98" fill="#2e7a24"/><circle cx="248.3" cy="374.7" r="1.16" fill="#7a6a14"/><circle cx="249.8" cy="375.2" r="1.02" fill="#3e7228"/><circle cx="251.8" cy="374.9" r="0.86" fill="#3e7228"/><circle cx="252.5" cy="375.2" r="0.96" fill="#286e28"/><circle cx="254.0" cy="375.1" r="1.14" fill="#146e5a"/><circle cx="241.8" cy="376.6" r="0.74" fill="#1c7a40"/><circle cx="242.8" cy="376.5" r="0.76" fill="#286e28"/><circle cx="244.9" cy="376.2" r="1.09" fill="#1c7a40"/><circle cx="246.3" cy="376.3" r="1.01" fill="#2e7a24"/><circle cx="247.7" cy="376.9" r="0.83" fill="#286e28"/><circle cx="248.3" cy="376.2" r="1.10" fill="#2e7a24"/><circle cx="253.1" cy="376.3" r="0.74" fill="#1c7a40"/>
<circle cx="175.3" cy="345.0" r="1.3" fill="#16808a"/><circle cx="177.0" cy="344.6" r="1.0" fill="#1f8a4a"/><circle cx="203.2" cy="338.6" r="0.7" fill="#16808a"/><circle cx="206.0" cy="336.7" r="0.98" fill="#1f8a4a"/><circle cx="207.0" cy="336.8" r="0.88" fill="#16808a"/><circle cx="208.3" cy="336.9" r="0.92" fill="#16808a"/><circle cx="210.4" cy="337.5" r="0.9" fill="#2a7a36"/><circle cx="211.7" cy="336.7" r="0.92" fill="#1f8a4a"/><circle cx="212.7" cy="337.4" r="0.75" fill="#2a7a36"/><circle cx="214.1" cy="337.5" r="0.94" fill="#2a7a36"/><circle cx="216.2" cy="337.2" r="0.71" fill="#1a9a9a"/><circle cx="216.8" cy="337.4" r="0.94" fill="#1f8a4a"/><circle cx="218.5" cy="338.2" r="0.97" fill="#1f8a4a"/><circle cx="219.8" cy="337.7" r="0.75" fill="#2a7a36"/><circle cx="221.4" cy="337.9" r="0.95" fill="#1a9a9a"/><circle cx="235.5" cy="344.4" r="0.88" fill="#16808a"/><circle cx="235.2" cy="345.5" r="0.91" fill="#1f8a4a"/><circle cx="231.6" cy="347.0" r="0.82" fill="#16808a"/><circle cx="230.0" cy="346.7" r="0.65" fill="#16808a"/><circle cx="229.2" cy="347.4" r="0.65" fill="#1f8a4a"/><circle cx="227.1" cy="344.7" r="0.66" fill="#1a9a9a"/><circle cx="226.1" cy="344.0" r="0.59" fill="#1a9a9a"/><circle cx="226.9" cy="343.1" r="0.85" fill="#1f8a4a"/><circle cx="228.7" cy="340.8" r="0.69" fill="#1a9a9a"/><circle cx="230.5" cy="341.1" r="0.7" fill="#2a7a36"/><circle cx="231.8" cy="341.3" r="0.72" fill="#1a9a9a"/><circle cx="234.3" cy="341.2" r="0.93" fill="#1a9a9a"/><circle cx="235.1" cy="342.3" r="0.75" fill="#1a9a9a"/><circle cx="235.9" cy="343.1" r="0.61" fill="#1a9a9a"/>
<polygon points="322.7,338.2 326.8,334.5 328.6,332.3 330.9,329.5 331.4,325 333.2,322.7 336.8,323.6 341.4,325.9 345.9,328.2 350.5,330 355,332.7 356.8,335.5 360.5,336.8 360,340 355.9,341.4 351.4,341.8 346.8,342.3 342.3,341.4 337.7,340.9 333.2,340.5 328.6,339.5" fill="#2f8a48"/>
<circle cx="332.3" cy="322.9" r="0.55" fill="#18a0a8"/><circle cx="333.6" cy="322.5" r="0.67" fill="#1a9090"/><circle cx="335.8" cy="323.1" r="0.66" fill="#2a8a4a"/><circle cx="333.2" cy="323.7" r="0.63" fill="#2a8a4a"/><circle cx="335.1" cy="323.6" r="0.72" fill="#2a8a4a"/><circle cx="335.6" cy="324.1" r="0.63" fill="#2a8a4a"/><circle cx="339.7" cy="324.3" r="0.73" fill="#1a9090"/><circle cx="339.1" cy="325.1" r="0.66" fill="#1a9090"/><circle cx="341.7" cy="325.3" r="0.55" fill="#2a8a4a"/><circle cx="330.7" cy="326.2" r="0.85" fill="#1a9090"/><circle cx="339.3" cy="325.9" r="0.88" fill="#2a8a4a"/><circle cx="340.8" cy="326.7" r="0.75" fill="#18a0a8"/><circle cx="341.6" cy="325.9" r="0.58" fill="#1a9090"/><circle cx="331.2" cy="327.4" r="0.60" fill="#1a9090"/><circle cx="342.2" cy="327.2" r="0.90" fill="#1878a8"/><circle cx="343.5" cy="327.9" r="0.66" fill="#1878a8"/><circle cx="345.9" cy="327.6" r="0.71" fill="#3a8a2a"/><circle cx="345.9" cy="328.9" r="0.80" fill="#1878a8"/><circle cx="346.4" cy="329.1" r="0.63" fill="#2a8a4a"/><circle cx="347.9" cy="328.5" r="0.60" fill="#18a0a8"/><circle cx="331.2" cy="330.0" r="0.68" fill="#18a0a8"/><circle cx="349.2" cy="329.9" r="0.65" fill="#1878a8"/><circle cx="350.0" cy="329.8" r="0.72" fill="#2a8a4a"/><circle cx="329.8" cy="330.9" r="0.82" fill="#1a9090"/><circle cx="328.9" cy="332.6" r="0.90" fill="#1878a8"/><circle cx="329.5" cy="332.0" r="0.77" fill="#2a8a4a"/><circle cx="328.7" cy="333.9" r="0.67" fill="#1a9090"/><circle cx="355.1" cy="333.8" r="0.79" fill="#18a0a8"/><circle cx="327.1" cy="335.0" r="0.62" fill="#2a8a4a"/><circle cx="329.6" cy="334.3" r="0.62" fill="#6a7a18"/><circle cx="330.7" cy="334.8" r="0.64" fill="#1a9090"/><circle cx="333.4" cy="334.9" r="0.61" fill="#7a7a18"/><circle cx="356.7" cy="334.3" r="0.67" fill="#3a8a2a"/><circle cx="325.9" cy="335.7" r="0.86" fill="#1a9090"/><circle cx="327.1" cy="335.7" r="0.84" fill="#1a9090"/><circle cx="330.2" cy="336.1" r="0.83" fill="#b8501a"/><circle cx="331.3" cy="336.1" r="0.60" fill="#b8501a"/><circle cx="332.6" cy="336.1" r="0.78" fill="#a86a18"/><circle cx="333.8" cy="335.9" r="0.56" fill="#3a9a3a"/><circle cx="334.9" cy="335.5" r="0.71" fill="#b8501a"/><circle cx="336.2" cy="336.2" r="0.79" fill="#6a7a18"/><circle cx="356.5" cy="335.8" r="0.82" fill="#18a0a8"/><circle cx="322.9" cy="337.2" r="0.75" fill="#2a8a4a"/><circle cx="324.0" cy="337.0" r="0.70" fill="#2a8a4a"/><circle cx="325.2" cy="337.5" r="0.84" fill="#a86a18"/><circle cx="326.3" cy="337.4" r="0.69" fill="#c03818"/><circle cx="327.9" cy="337.2" r="0.66" fill="#c8481a"/><circle cx="329.6" cy="336.8" r="0.80" fill="#8a6a14"/><circle cx="330.8" cy="336.8" r="0.66" fill="#3a9a3a"/><circle cx="332.0" cy="336.7" r="0.81" fill="#c03818"/><circle cx="333.2" cy="336.9" r="0.56" fill="#8a6a14"/><circle cx="335.0" cy="337.3" r="0.75" fill="#b8501a"/><circle cx="335.5" cy="337.1" r="0.82" fill="#7a7a18"/><circle cx="336.8" cy="337.1" r="0.55" fill="#6a7a18"/><circle cx="338.0" cy="337.1" r="0.71" fill="#1a9090"/><circle cx="339.6" cy="336.8" r="0.57" fill="#a86a18"/><circle cx="357.2" cy="336.7" r="0.87" fill="#1a9090"/><circle cx="359.5" cy="337.3" r="0.89" fill="#1a9090"/><circle cx="326.6" cy="338.7" r="0.69" fill="#18a0a8"/><circle cx="327.2" cy="338.4" r="0.67" fill="#1878a8"/><circle cx="328.4" cy="338.5" r="0.73" fill="#2a8a4a"/><circle cx="331.4" cy="338.1" r="0.76" fill="#7a7a18"/><circle cx="331.9" cy="338.3" r="0.60" fill="#7a7a18"/><circle cx="333.8" cy="338.1" r="0.57" fill="#6a7a18"/><circle cx="334.4" cy="338.2" r="0.63" fill="#c8481a"/><circle cx="335.8" cy="338.4" r="0.58" fill="#c8481a"/><circle cx="338.1" cy="338.2" r="0.59" fill="#b8501a"/><circle cx="339.9" cy="338.7" r="0.67" fill="#3a9a3a"/><circle cx="341.1" cy="338.2" r="0.74" fill="#b8501a"/><circle cx="342.0" cy="338.6" r="0.77" fill="#b8501a"/><circle cx="342.8" cy="338.7" r="0.66" fill="#a86a18"/><circle cx="328.4" cy="339.3" r="0.75" fill="#1878a8"/><circle cx="329.6" cy="339.1" r="0.84" fill="#2a8a4a"/><circle cx="332.7" cy="339.9" r="0.72" fill="#1878a8"/><circle cx="335.6" cy="339.8" r="0.69" fill="#2a8a4a"/><circle cx="337.1" cy="339.8" r="0.68" fill="#1878a8"/><circle cx="337.9" cy="339.6" r="0.68" fill="#6a7a18"/><circle cx="340.5" cy="339.1" r="0.78" fill="#6a7a18"/><circle cx="342.3" cy="339.5" r="0.80" fill="#b8501a"/><circle cx="342.8" cy="339.5" r="0.80" fill="#7a7a18"/><circle cx="343.9" cy="339.3" r="0.58" fill="#1a9090"/><circle cx="345.1" cy="339.3" r="0.84" fill="#b8501a"/><circle cx="349.2" cy="339.2" r="0.55" fill="#8a6a14"/><circle cx="350.0" cy="339.7" r="0.57" fill="#b8501a"/><circle cx="359.5" cy="339.2" r="0.82" fill="#2a8a4a"/><circle cx="333.5" cy="340.8" r="0.59" fill="#1a9090"/><circle cx="335.9" cy="340.6" r="0.85" fill="#2a8a4a"/><circle cx="336.9" cy="340.3" r="0.61" fill="#2a8a4a"/><circle cx="338.2" cy="340.6" r="0.65" fill="#2a8a4a"/><circle cx="339.3" cy="340.3" r="0.84" fill="#1a9090"/><circle cx="340.4" cy="340.5" r="0.79" fill="#1878a8"/><circle cx="343.1" cy="340.7" r="0.74" fill="#1878a8"/><circle cx="345.1" cy="340.3" r="0.83" fill="#3a9a3a"/><circle cx="346.9" cy="340.3" r="0.73" fill="#1a9090"/><circle cx="348.0" cy="340.7" r="0.71" fill="#7a7a18"/><circle cx="348.7" cy="340.4" r="0.71" fill="#6a7a18"/><circle cx="357.6" cy="341.0" r="0.70" fill="#2a8a4a"/><circle cx="338.4" cy="341.5" r="0.55" fill="#18a0a8"/><circle cx="345.5" cy="341.8" r="0.61" fill="#2a8a4a"/><circle cx="346.6" cy="341.7" r="0.62" fill="#2a8a4a"/><circle cx="347.6" cy="342.2" r="0.78" fill="#2a8a4a"/><circle cx="349.2" cy="342.1" r="0.79" fill="#2a8a4a"/><circle cx="350.1" cy="341.8" r="0.62" fill="#2a8a4a"/><circle cx="353.9" cy="341.9" r="0.58" fill="#1a9090"/><circle cx="346.9" cy="342.8" r="0.61" fill="#2a8a4a"/><circle cx="348.7" cy="342.7" r="0.53" fill="#2a8a4a"/>
<rect x="333.6" y="324.1" width="2.3" height="10.2" fill="#d41a14"/>
<rect x="335.8" y="324.90000000000003" width="0.8" height="9.4" fill="#18a0a8"/>
<rect x="332.7" y="324.40000000000003" width="0.85" height="8.9" fill="#2a8a3a"/>
<rect x="338.0" y="326.4" width="2.3" height="9.3" fill="#d41a14"/>
<rect x="340.2" y="327.2" width="0.8" height="8.5" fill="#18a0a8"/>
<rect x="337.1" y="326.7" width="0.85" height="8.0" fill="#2a8a3a"/>
<rect x="342.1" y="328.2" width="2.3" height="8.8" fill="#d41a14"/>
<rect x="344.3" y="329.0" width="0.8" height="8.0" fill="#18a0a8"/>
<rect x="341.2" y="328.5" width="0.85" height="7.5" fill="#2a8a3a"/>
<rect x="346.2" y="330" width="2.3" height="8.4" fill="#d41a14"/>
<rect x="348.4" y="330.8" width="0.8" height="7.6" fill="#18a0a8"/>
<rect x="345.3" y="330.3" width="0.85" height="7.1" fill="#2a8a3a"/>
<rect x="350.2" y="331.8" width="2.3" height="7.5" fill="#d41a14"/>
<rect x="352.5" y="332.6" width="0.8" height="6.7" fill="#18a0a8"/>
<rect x="349.4" y="332.1" width="0.85" height="6.2" fill="#2a8a3a"/>
<rect x="353.5" y="333.4" width="2.3" height="7.1" fill="#d41a14"/>
<rect x="355.8" y="334.2" width="0.8" height="6.3" fill="#18a0a8"/>
<rect x="352.6" y="333.7" width="0.85" height="5.8" fill="#2a8a3a"/>
<line x1="152.4" y1="314.2" x2="300.6" y2="272.3" stroke="#3a3a3a" stroke-width="0.65"/>
<line x1="300.6" y1="272.3" x2="453.4" y2="326.4" stroke="#666" stroke-width="0.55"/>
<line x1="453.4" y1="326.4" x2="298.2" y2="383.3" stroke="#3a3a3a" stroke-width="0.65"/>
<line x1="298.2" y1="383.3" x2="152.4" y2="314.2" stroke="#6a6a6a" stroke-width="0.55"/>
<line x1="152.4" y1="314.2" x2="154.2" y2="362.0" stroke="#111" stroke-width="1.3"/>
<line x1="453.4" y1="326.4" x2="448.0" y2="376.5" stroke="#111" stroke-width="1.3"/>
<line x1="298.2" y1="383.3" x2="297.2" y2="437.9" stroke="#111" stroke-width="1.5"/>
<line x1="154.2" y1="362.0" x2="297.2" y2="437.9" stroke="#3a3a3a" stroke-width="0.9"/>
<line x1="297.2" y1="437.9" x2="448.0" y2="376.5" stroke="#3a3a3a" stroke-width="0.9"/>
<path d="M155.0 362.4l-0.9 2.1M156.8 363.4l-1.7 3.8M158.5 364.3l-0.9 2.1M160.2 365.2l-0.9 2.2M161.9 366.1l-1.0 2.2M163.7 367.0l-1.0 2.2M165.4 367.9l-2.8 5.6M167.2 368.9l-1.0 2.2M169.0 369.8l-1.0 2.2M170.7 370.8l-1.0 2.2M172.5 371.7l-1.0 2.2M174.3 372.7l-1.8 3.9M176.1 373.6l-1.0 2.2M177.9 374.6l-1.0 2.2M179.6 375.5l-1.0 2.3M181.4 376.4l-1.0 2.3M183.2 377.4l-2.9 5.8M185.0 378.4l-1.0 2.3M186.8 379.3l-1.0 2.3M188.7 380.3l-1.0 2.3M190.5 381.3l-1.0 2.3M192.3 382.2l-1.9 4.1M194.1 383.2l-1.0 2.3M195.9 384.2l-1.0 2.3M197.8 385.1l-1.0 2.4M199.6 386.1l-1.0 2.4M201.4 387.1l-3.0 6.1M203.4 388.1l-1.0 2.4M205.4 389.2l-1.1 2.4M207.4 390.2l-1.1 2.4M209.4 391.3l-1.1 2.4M211.4 392.3l-1.9 4.3M213.3 393.4l-1.1 2.4M215.3 394.4l-1.1 2.4M217.3 395.5l-1.1 2.5M219.3 396.6l-1.1 2.5M221.3 397.6l-3.2 6.3M223.4 398.8l-1.1 2.5M225.6 399.9l-1.1 2.5M227.7 401.0l-1.1 2.5M229.9 402.2l-1.1 2.5M232.0 403.3l-2.0 4.5M234.1 404.4l-1.1 2.5M236.3 405.6l-1.1 2.6M238.4 406.7l-1.1 2.6M240.6 407.8l-1.1 2.6M242.7 409.0l-3.3 6.6M244.9 410.1l-1.1 2.6M247.0 411.3l-1.1 2.6M249.2 412.4l-1.2 2.6M251.4 413.6l-1.2 2.6M253.5 414.7l-2.1 4.7M255.7 415.9l-1.2 2.7M257.9 417.0l-1.2 2.7M260.1 418.2l-1.2 2.7M262.2 419.3l-1.2 2.7M264.4 420.5l-3.5 6.9M266.6 421.7l-1.2 2.7M268.8 422.8l-1.2 2.7M271.0 424.0l-1.2 2.7M273.2 425.2l-1.2 2.7M275.4 426.3l-2.2 4.9M277.6 427.5l-1.2 2.8M279.8 428.7l-1.2 2.8M282.0 429.8l-1.2 2.8M284.2 431.0l-1.2 2.8M286.4 432.2l-3.6 7.2M288.6 433.3l-1.2 2.8M290.8 434.5l-1.3 2.8M293.1 435.7l-1.3 2.9M295.3 436.9l-1.3 2.9" stroke="#4a4a4a" stroke-width="0.62" fill="none"/>
<text class="tm" x="146.0" y="386.2" font-size="10.2" text-anchor="middle" fill="#222">10,000</text>
<text class="tm" x="170.0" y="396.5" font-size="10.2" text-anchor="middle" fill="#222">9500</text>
<text class="tm" x="188.2" y="406.2" font-size="10.2" text-anchor="middle" fill="#222">9000</text>
<text class="tm" x="208.1" y="416.7" font-size="10.2" text-anchor="middle" fill="#222">8500</text>
<text class="tm" x="229.5" y="428.1" font-size="10.2" text-anchor="middle" fill="#222">8000</text>
<text class="tm" x="251.2" y="439.6" font-size="10.2" text-anchor="middle" fill="#222">7500</text>
<text class="tm" x="273.2" y="451.3" font-size="10.2" text-anchor="middle" fill="#222">7000</text>
<path d="M298.7 437.3l1.0 2.9M301.3 436.2l1.9 5.2M303.8 435.2l1.0 2.8M306.4 434.2l1.0 2.8M308.9 433.1l1.0 2.8M311.5 432.1l1.0 2.8M314.0 431.1l2.9 7.9M316.5 430.1l1.0 2.8M318.9 429.0l1.0 2.7M321.4 428.0l0.9 2.7M323.9 427.0l0.9 2.7M326.4 426.0l1.8 5.0M328.8 425.0l0.9 2.7M331.3 424.0l0.9 2.7M333.8 423.0l0.9 2.7M336.2 422.0l0.9 2.7M338.7 421.0l2.7 7.5M341.1 420.0l0.9 2.6M343.4 419.1l0.9 2.6M345.8 418.1l0.9 2.6M348.2 417.1l0.9 2.6M350.5 416.2l1.7 4.8M352.9 415.2l0.9 2.6M355.3 414.2l0.9 2.6M357.7 413.3l0.9 2.5M360.0 412.3l0.9 2.5M362.4 411.4l2.6 7.2M364.6 410.4l0.9 2.5M366.9 409.5l0.9 2.5M369.1 408.6l0.9 2.5M371.4 407.7l0.9 2.5M373.6 406.8l1.6 4.5M375.9 405.9l0.8 2.5M378.1 404.9l0.8 2.4M380.4 404.0l0.8 2.4M382.6 403.1l0.8 2.4M384.9 402.2l2.5 6.8M387.1 401.3l0.8 2.4M389.3 400.4l0.8 2.4M391.4 399.5l0.8 2.4M393.6 398.6l0.8 2.4M395.8 397.8l1.5 4.3M398.0 396.9l0.8 2.3M400.2 396.0l0.8 2.3M402.3 395.1l0.8 2.3M404.5 394.2l0.8 2.3M406.7 393.3l2.4 6.5M408.9 392.4l0.8 2.3M411.1 391.5l0.8 2.3M413.2 390.7l0.8 2.3M415.4 389.8l0.8 2.2M417.6 388.9l1.5 4.1M419.8 388.0l0.8 2.2M422.0 387.1l0.8 2.2M424.1 386.2l0.8 2.2M426.3 385.3l0.8 2.2M428.5 384.4l2.3 6.2M430.4 383.6l0.8 2.2M432.4 382.9l0.7 2.2M434.4 382.1l0.7 2.2M436.3 381.3l0.7 2.1M438.2 380.5l1.4 3.9M440.2 379.7l0.7 2.1M442.1 378.9l0.7 2.1M444.1 378.1l0.7 2.1M446.1 377.3l0.7 2.1M448.0 376.5l2.2 6.0" stroke="#4a4a4a" stroke-width="0.62" fill="none"/>
<text class="tm" x="329.6" y="451.4" font-size="10.4" text-anchor="middle" fill="#222">412.<tspan dx="2.6">5</tspan></text>
<text class="tm" x="349.3" y="441.6" font-size="10.4" text-anchor="middle" fill="#222">413</text>
<text class="tm" x="377.6" y="431.1" font-size="10.4" text-anchor="middle" fill="#222">413.<tspan dx="2.6">5</tspan></text>
<text class="tm" x="395.5" y="421.9" font-size="10.4" text-anchor="middle" fill="#222">414</text>
<text class="tm" x="422.3" y="412.7" font-size="10.4" text-anchor="middle" fill="#222">414.<tspan dx="2.6">5</tspan></text>
<text class="tm" x="438.6" y="403.8" font-size="10.4" text-anchor="middle" fill="#222">415</text>
<text class="tm" x="463.8" y="395.7" font-size="10.4" text-anchor="middle" fill="#222">415.<tspan dx="2.6">5</tspan></text>
<text class="tm" x="316" y="432.9" font-size="10.4" text-anchor="middle" fill="#222">0</text>
<text class="tm" x="316" y="420.2" font-size="10.4" text-anchor="middle" fill="#222">200</text>
<text class="tm" x="316" y="407.4" font-size="10.4" text-anchor="middle" fill="#222">400</text>
<text class="tm" x="316" y="394.7" font-size="10.4" text-anchor="middle" fill="#222">600</text>
<path d="M298.6 429.5h7.5M298.6 426.3h3.0M298.6 423.1h3.0M298.6 419.9h3.0M298.6 416.7h7.5M298.6 413.5h3.0M298.6 410.3h3.0M298.6 407.1h3.0M298.6 403.9h7.5M298.6 400.7h3.0M298.6 397.5h3.0M298.6 394.3h3.0M298.6 391.1h7.5M298.6 387.9h3.0M298.6 384.7h3.0M298.6 381.5h3.0M298.6 378.3h7.5" stroke="#bdbdbd" stroke-width="0.6" fill="none"/>
<text class="tm" transform="translate(276.4,398) rotate(29) skewX(-14)" font-size="11.6" letter-spacing="1.0" text-anchor="middle" fill="#222">axis-3</text>
<text class="tm" x="102" y="432.3" font-size="12.3" fill="#222">axis-2 (+ 4.71 × 10<tspan font-size="6.6" dy="-5">6</tspan><tspan dy="5">)</tspan></text>
<text class="tm" x="403.3" y="438.4" font-size="12.3" fill="#222">axis-1 ( × 10<tspan font-size="6.6" dy="-5">3</tspan><tspan dy="5">)</tspan></text>
<defs><linearGradient id="rb" x1="0" y1="0" x2="1" y2="0"><stop offset="0" stop-color="#0000ff"/><stop offset="0.25" stop-color="#00ffff"/><stop offset="0.5" stop-color="#00ff00"/><stop offset="0.75" stop-color="#ffff00"/><stop offset="1" stop-color="#ff0000"/></linearGradient></defs>
<rect x="190.4" y="462.8" width="222.6" height="44.7" fill="#fff" stroke="#c8c8c8" stroke-width="0.9"/>
<path d="M409 506.8 L412.4 503.4 M410.6 506.8 L412.4 505" stroke="#bbb" stroke-width="0.5" fill="none"/>
<rect x="194.6" y="475.7" width="214.6" height="6.8" fill="url(#rb)"/>
<line x1="194.4" y1="484.3" x2="409.3" y2="484.3" stroke="#777" stroke-width="0.7"/>
<path d="M194.70 484.3v5.0M199.06 484.3v1.7M203.42 484.3v1.7M207.78 484.3v1.7M212.14 484.3v1.7M216.50 484.3v3.2M220.86 484.3v1.7M225.22 484.3v1.7M229.58 484.3v1.7M233.94 484.3v1.7M238.30 484.3v5.0M242.66 484.3v1.7M247.02 484.3v1.7M251.38 484.3v1.7M255.74 484.3v1.7M260.10 484.3v3.2M264.46 484.3v1.7M268.82 484.3v1.7M273.18 484.3v1.7M277.54 484.3v1.7M281.90 484.3v5.0M286.26 484.3v1.7M290.62 484.3v1.7M294.98 484.3v1.7M299.34 484.3v1.7M303.70 484.3v3.2M308.06 484.3v1.7M312.42 484.3v1.7M316.78 484.3v1.7M321.14 484.3v1.7M325.50 484.3v5.0M329.86 484.3v1.7M334.22 484.3v1.7M338.58 484.3v1.7M342.94 484.3v1.7M347.30 484.3v3.2M351.66 484.3v1.7M356.02 484.3v1.7M360.38 484.3v1.7M364.74 484.3v1.7M369.10 484.3v5.0M373.46 484.3v1.7M377.82 484.3v1.7M382.18 484.3v1.7M386.54 484.3v1.7M390.90 484.3v3.2M395.26 484.3v1.7M399.62 484.3v1.7M403.98 484.3v1.7M408.34 484.3v1.7" stroke="#777" stroke-width="0.65" fill="none"/>
<text class="tm" x="196.6" y="502.5" font-size="10.2" text-anchor="middle" fill="#222">0</text>
<text class="tm" x="238.2" y="502.5" font-size="10.2" text-anchor="middle" fill="#222">0.2</text>
<text class="tm" x="281.8" y="502.5" font-size="10.2" text-anchor="middle" fill="#222">0.4</text>
<text class="tm" x="325.4" y="502.5" font-size="10.2" text-anchor="middle" fill="#222">0.6</text>
<text class="tm" x="369" y="502.5" font-size="10.2" text-anchor="middle" fill="#222">0.8</text>
<text class="tm" x="302.4" y="473.2" font-size="10.2" text-anchor="middle" fill="#222">Probability</text>
<text class="tm" transform="translate(292.3,523.9) scale(0.985,1)" font-size="19" font-weight="bold" text-anchor="middle" fill="#111">(c)</text>
</g>
</svg></body></html>
